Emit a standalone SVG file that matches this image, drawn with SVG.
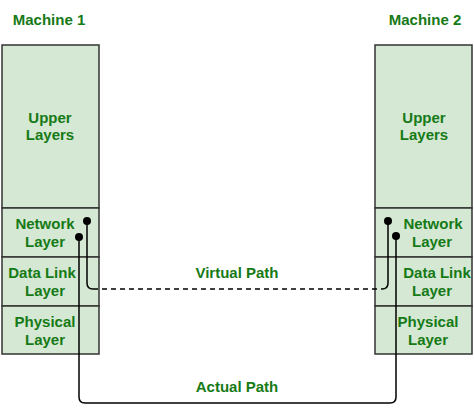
<svg xmlns="http://www.w3.org/2000/svg" width="474" height="408" viewBox="0 0 474 408">
<style>
.box{fill:#d5e8d4;stroke:#333333;stroke-width:1.5}
.t{font-family:"Liberation Sans",Arial,sans-serif;font-weight:bold;font-size:15px;fill:#167a16;text-anchor:middle}
.w{fill:none;stroke:#000;stroke-width:1.5}
.d{stroke-dasharray:5,4}
.dot{fill:#000}
</style>
<rect width="474" height="408" fill="#fff"/>
<g id="machine1">
<text class="t" x="49" y="25">Machine 1</text>
<g id="m1-upper"><rect class="box" x="2" y="45" width="97" height="163"/><text class="t" x="50" y="123">Upper</text><text class="t" x="50" y="140">Layers</text></g>
<g id="m1-network"><rect class="box" x="2" y="208" width="97" height="49"/><text class="t" x="45" y="228.5">Network</text><text class="t" x="45" y="246.5">Layer</text></g>
<g id="m1-datalink"><rect class="box" x="2" y="257" width="97" height="49"/><text class="t" x="42" y="277.5">Data Link</text><text class="t" x="45" y="295.5">Layer</text></g>
<g id="m1-physical"><rect class="box" x="2" y="306" width="97" height="48"/><text class="t" x="45" y="326.5">Physical</text><text class="t" x="45" y="344.5">Layer</text></g>
</g>
<g id="machine2">
<text class="t" x="425" y="25">Machine 2</text>
<g id="m2-upper"><rect class="box" x="375" y="45" width="97" height="163"/><text class="t" x="424" y="123">Upper</text><text class="t" x="424" y="140">Layers</text></g>
<g id="m2-network"><rect class="box" x="375" y="208" width="97" height="49"/><text class="t" x="433" y="228.5">Network</text><text class="t" x="432" y="246.5">Layer</text></g>
<g id="m2-datalink"><rect class="box" x="375" y="257" width="97" height="49"/><text class="t" x="437" y="277.5">Data Link</text><text class="t" x="432" y="295.5">Layer</text></g>
<g id="m2-physical"><rect class="box" x="375" y="306" width="97" height="48"/><text class="t" x="428" y="326.5">Physical</text><text class="t" x="428" y="344.5">Layer</text></g>
</g>
<g id="connectors">
<path class="w" d="M87,221 V283 Q87,289 93,289"/>
<path class="w d" d="M93,289 H382"/>
<path class="w" d="M382,289 Q388,289 388,283 V221"/>
<path class="w" d="M79,237 V397 Q79,403 85,403 H390 Q396,403 396,397 V236"/>
<circle class="dot" cx="87" cy="221" r="4"/>
<circle class="dot" cx="79" cy="237" r="4"/>
<circle class="dot" cx="388" cy="221" r="4"/>
<circle class="dot" cx="396" cy="236" r="4"/>
<text class="t" x="237" y="278">Virtual Path</text>
<text class="t" x="237" y="392">Actual Path</text>
</g>
</svg>
